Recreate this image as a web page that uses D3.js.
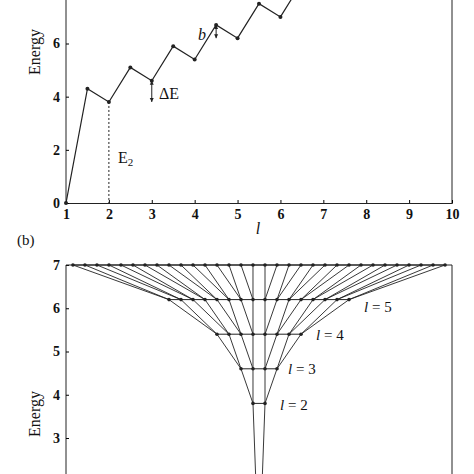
<!DOCTYPE html>
<html><head><meta charset="utf-8">
<script src="https://cdn.jsdelivr.net/npm/d3@7"></script>
<style>body{margin:0;background:#fff}svg text{font-family:"Liberation Serif","DejaVu Serif",serif !important;fill:#111}</style>
</head><body>
<script>
// panel (a): zigzag energy vs l
var lVals = [1, 1.5, 2, 2.5, 3, 3.5, 4, 4.5, 5, 5.5, 6, 6.5, 7];
var energyVals = [0, 4.3, 3.8, 5.1, 4.6, 5.9, 5.4, 6.7, 6.2, 7.5, 7.0, 8.3, 7.8];
var xTicksA = [1, 2, 3, 4, 5, 6, 7, 8, 9, 10];
var yTicksA = [0, 2, 4, 6];
// panel (b): tree levels
var levels = [2, 3, 4, 5, 6];
var levelEnergy = [3.8, 4.6, 5.4, 6.2, 7.0];
var yTicksB = [3, 4, 5, 6, 7];

var W = 474, H = 474;
var svg = d3.select("body").append("svg").attr("width", W).attr("height", H);
var fmt = d3.format("d");

var xA = d3.scaleLinear().domain([1, 10]).range([66, 452]);
var yA = d3.scaleLinear().domain([0, 6]).range([203, 43.5]);

var gA = svg.append("g");
gA.append("clipPath").attr("id", "clipA").append("rect")
    .attr("x", 66).attr("y", 0).attr("width", 386).attr("height", 203);
gA.append("line").attr("x1", 452).attr("x2", 452).attr("y1", 0).attr("y2", 203).attr("stroke", "#222");
gA.append("g").attr("transform", "translate(0,203)")
    .call(d3.axisBottom(xA).tickValues(xTicksA).tickSize(-3).tickPadding(6).tickFormat(fmt))
    .call(function(g) { g.attr("font-family", null); g.select(".domain").attr("stroke", "#222"); g.selectAll("text").attr("font-size", 14).attr("font-weight", "bold"); });
gA.append("g").attr("transform", "translate(66,0)")
    .call(d3.axisLeft(yA).tickValues(yTicksA).tickSize(-3).tickPadding(6).tickFormat(fmt))
    .call(function(g) { g.attr("font-family", null); g.select(".domain").attr("d", "M0,0V203").attr("stroke", "#222"); g.selectAll("text").attr("font-size", 14).attr("font-weight", "bold"); });

var pts = lVals.map(function(l, i) { return [l, energyVals[i]]; });
gA.append("path").attr("clip-path", "url(#clipA)")
    .attr("d", d3.line().x(function(d) { return xA(d[0]); }).y(function(d) { return yA(d[1]); })(pts))
    .attr("fill", "none").attr("stroke", "#222").attr("stroke-width", 1.2);
gA.selectAll("circle").data(pts).enter().append("circle")
    .attr("cx", function(d) { return xA(d[0]); }).attr("cy", function(d) { return yA(d[1]); })
    .attr("r", 2).attr("fill", "#222");

// annotations
gA.append("line").attr("x1", xA(2)).attr("x2", xA(2)).attr("y1", yA(3.8)).attr("y2", yA(0))
    .attr("stroke", "#222").attr("stroke-dasharray", "2,2");
function arrow(x, y1, y2) {
    gA.append("line").attr("x1", x).attr("x2", x).attr("y1", y1).attr("y2", y2).attr("stroke", "#222");
    gA.append("path").attr("d", "M" + (x - 2) + "," + (y1 + 4) + "L" + x + "," + y1 + "L" + (x + 2) + "," + (y1 + 4)).attr("fill", "#222");
    gA.append("path").attr("d", "M" + (x - 2) + "," + (y2 - 4) + "L" + x + "," + y2 + "L" + (x + 2) + "," + (y2 - 4)).attr("fill", "#222");
}
arrow(xA(3), yA(4.6), yA(3.8));
arrow(xA(4.5), yA(6.7), yA(6.2));
gA.append("text").attr("x", 118).attr("y", 163).attr("font-size", 16).html("E<tspan font-size='11' dy='3'>2</tspan>");
gA.append("text").attr("x", 159).attr("y", 99).attr("font-size", 16).text("ΔE");
gA.append("text").attr("x", 198).attr("y", 40).attr("font-size", 16).attr("font-style", "italic").text("b");
gA.append("text").attr("x", 258).attr("y", 234).attr("font-size", 16).attr("font-style", "italic").attr("text-anchor", "middle").text("l");
gA.append("text").attr("transform", "translate(40,52) rotate(-90)").attr("font-size", 16).attr("text-anchor", "middle").text("Energy");

// panel (b)
var xB = d3.scaleLinear().domain([-16.08, 16.08]).range([66, 452]);
var yB = d3.scaleLinear().domain([3, 7]).range([438, 265]);
var gB = svg.append("g");
gB.append("text").attr("x", 17).attr("y", 245).attr("font-size", 15).text("(b)");
gB.append("g").attr("transform", "translate(66,0)")
    .call(d3.axisLeft(yB).tickValues(yTicksB).tickSize(-3).tickPadding(6).tickFormat(fmt))
    .call(function(g) { g.attr("font-family", null); g.select(".domain").attr("d", "M0,265V480").attr("stroke", "#222"); g.selectAll("text").attr("font-size", 14).attr("font-weight", "bold"); });
gB.append("line").attr("x1", 66).attr("x2", 452).attr("y1", yB(7)).attr("y2", yB(7)).attr("stroke", "#222");
gB.append("line").attr("x1", 452).attr("x2", 452).attr("y1", yB(7)).attr("y2", 480).attr("stroke", "#222");

function pos(level, k) { var n = Math.pow(2, level - 1); return k - (n - 1) / 2; }
var nodes = [], edges = [];
levels.forEach(function(l, li) {
    var n = Math.pow(2, l - 1);
    for (var k = 0; k < n; k++) {
        nodes.push({ x: pos(l, k), e: levelEnergy[li] });
        if (li < levels.length - 1) {
            [2 * k, 2 * k + 1].forEach(function(c) {
                edges.push([pos(l, k), levelEnergy[li], pos(l + 1, c), levelEnergy[li + 1]]);
            });
        }
    }
    gB.append("line").attr("x1", xB(pos(l, 0))).attr("x2", xB(pos(l, n - 1)))
        .attr("y1", yB(levelEnergy[li])).attr("y2", yB(levelEnergy[li])).attr("stroke", "#222");
});
// root at energy 0 below the visible area
edges.push([0, 0, -0.5, 3.8], [0, 0, 0.5, 3.8]);
gB.selectAll("line.edge").data(edges).enter().append("line").attr("class", "edge")
    .attr("x1", function(d) { return xB(d[0]); }).attr("y1", function(d) { return yB(d[1]); })
    .attr("x2", function(d) { return xB(d[2]); }).attr("y2", function(d) { return yB(d[3]); })
    .attr("stroke", "#222").attr("stroke-width", 0.9);
gB.selectAll("circle").data(nodes).enter().append("circle")
    .attr("cx", function(d) { return xB(d.x); }).attr("cy", function(d) { return yB(d.e); })
    .attr("r", 1.8).attr("fill", "#222");

var lvlLabels = [[280, 410, "2"], [288, 374, "3"], [316, 340, "4"], [364, 312, "5"]];
lvlLabels.forEach(function(d) {
    gB.append("text").attr("x", d[0]).attr("y", d[1]).attr("font-size", 15)
        .html("<tspan font-style='italic'>l</tspan> = " + d[2]);
});
gB.append("text").attr("transform", "translate(40,414) rotate(-90)").attr("font-size", 16).attr("text-anchor", "middle").text("Energy");
</script>
</body></html>
